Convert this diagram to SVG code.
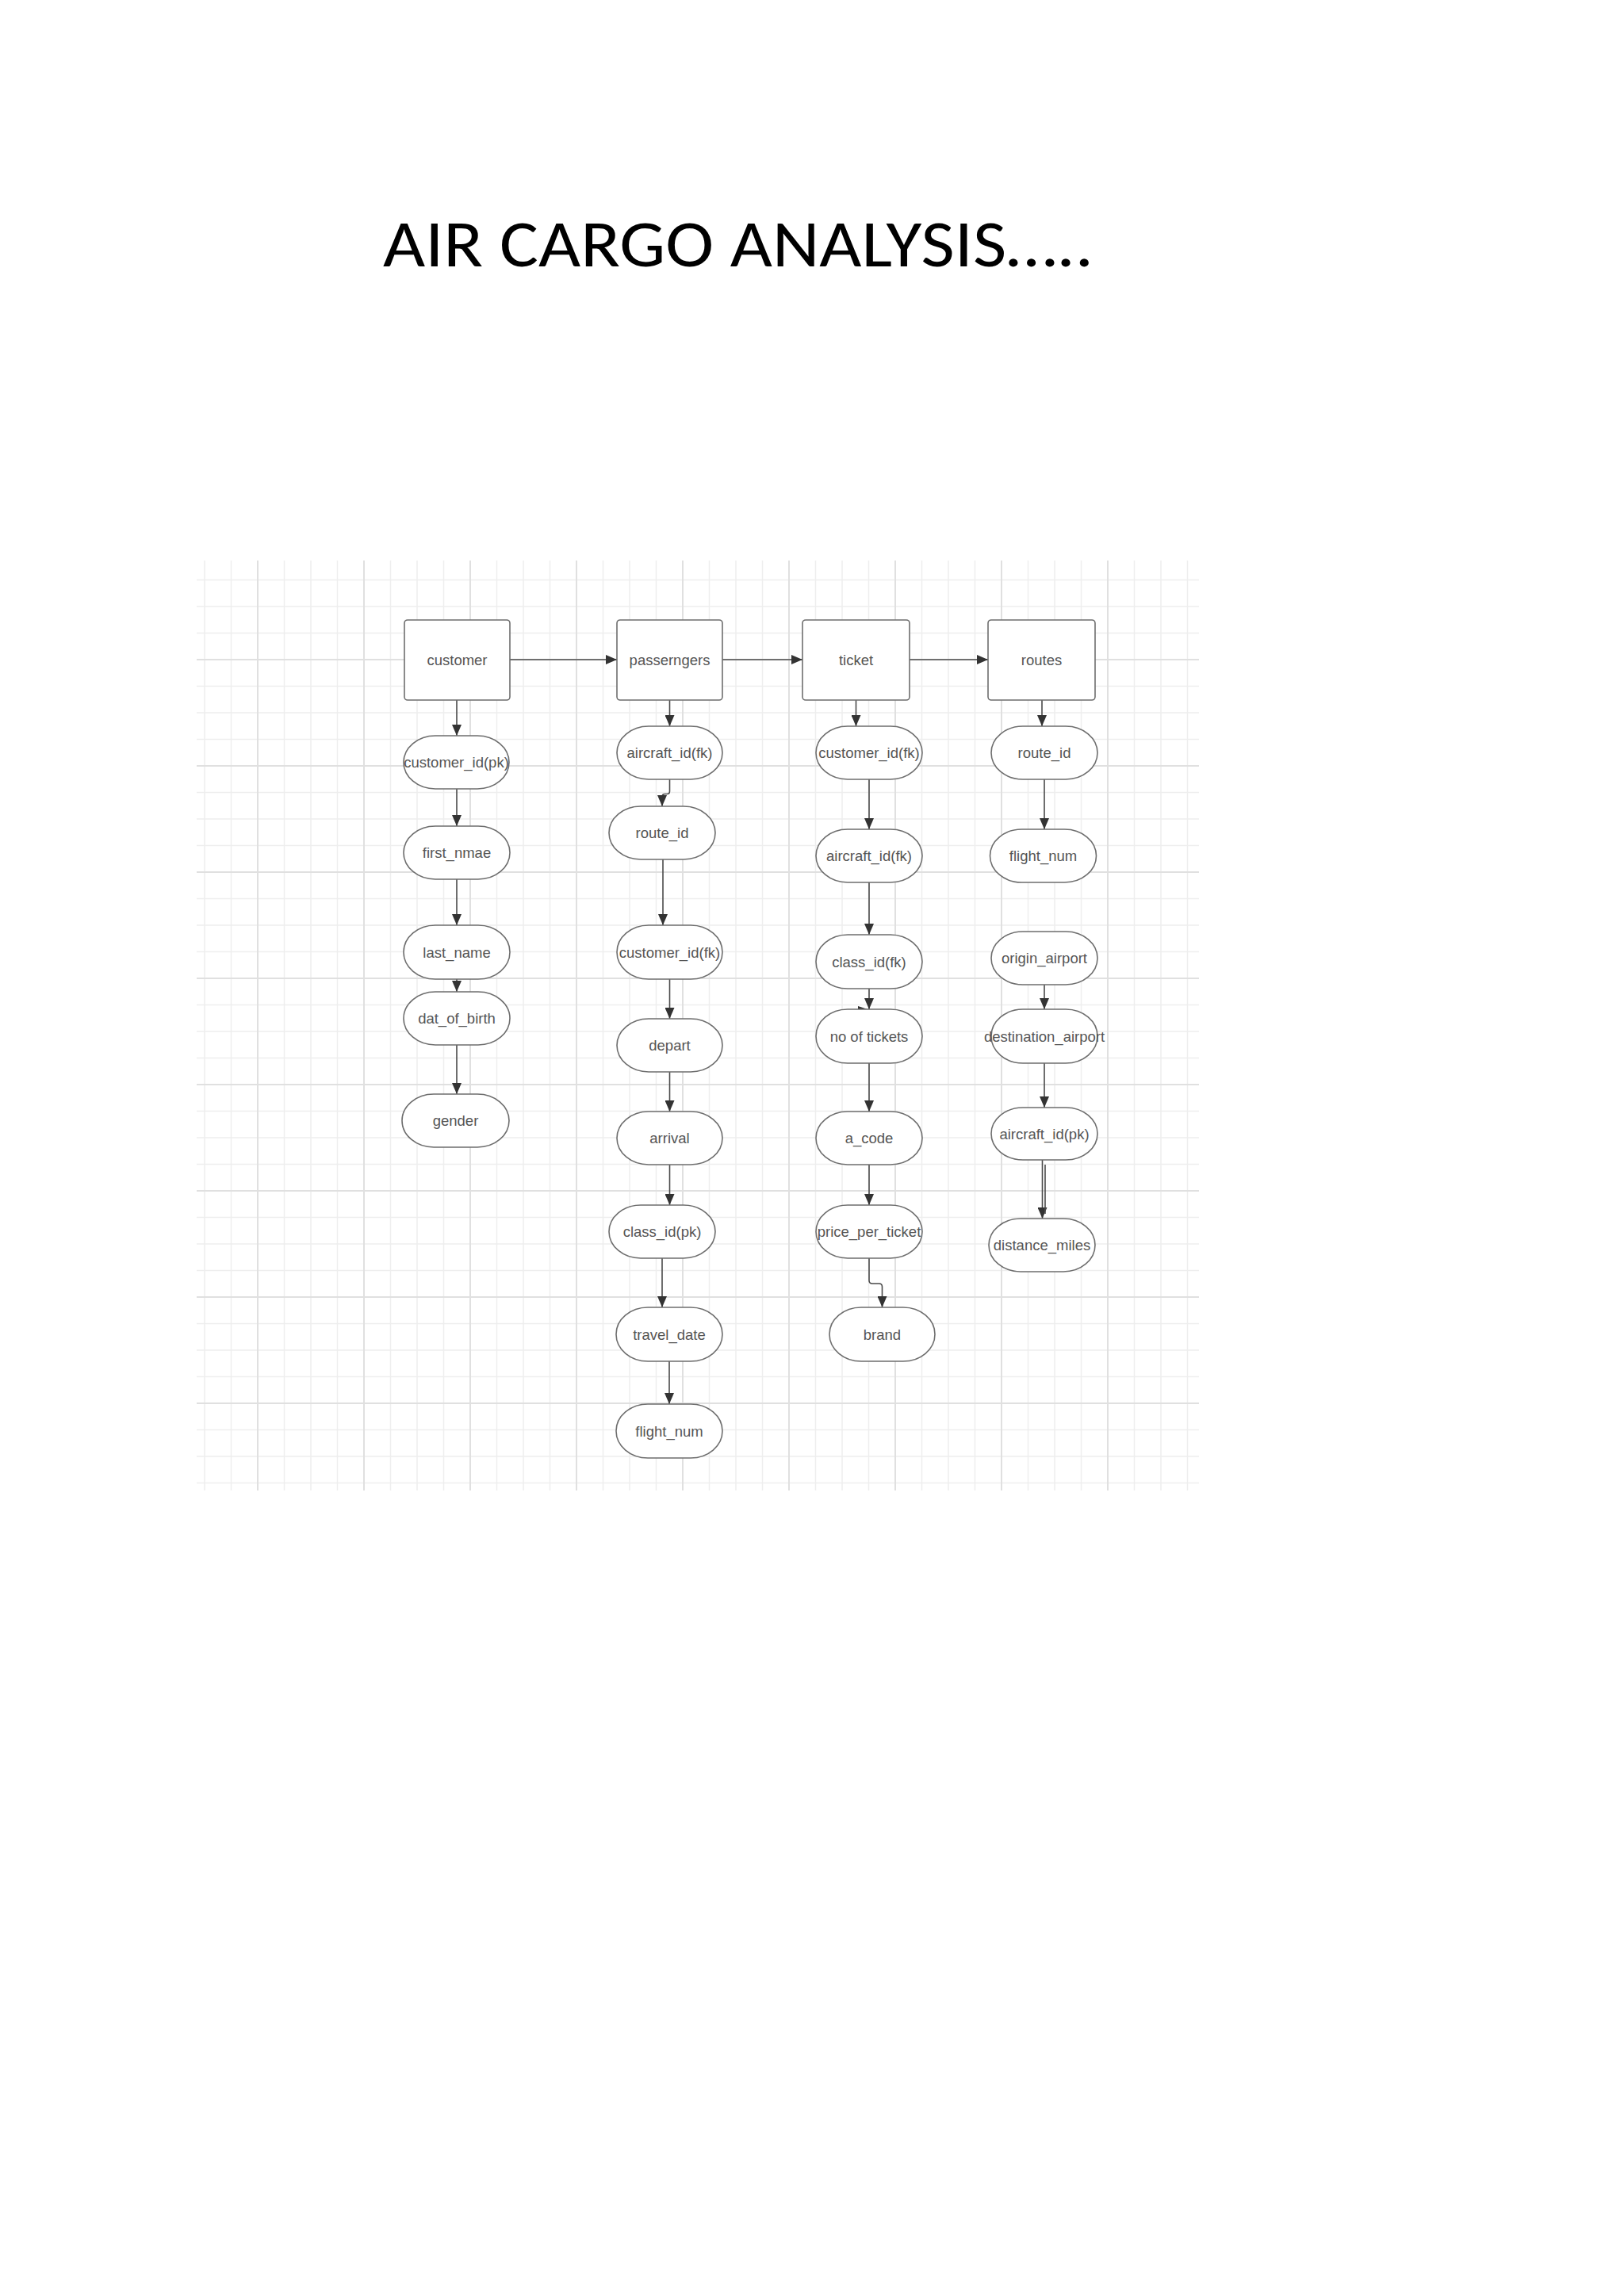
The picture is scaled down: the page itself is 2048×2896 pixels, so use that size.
<svg xmlns="http://www.w3.org/2000/svg" width="2048" height="2896" viewBox="0 0 2048 2896">
<style>
.ent{fill:#fff;stroke:#6e6e6e;stroke-width:1.6}
.att{fill:#fff;stroke:#6e6e6e;stroke-width:1.6}
.lbl{font-family:"Liberation Sans",Arial,sans-serif;font-size:18.5px;fill:#555;text-anchor:middle}
.con{fill:none;stroke:#4a4a4a;stroke-width:1.6}
.gmin{fill:none;stroke:#eeeeee;stroke-width:1.5}
.gmaj{fill:none;stroke:#e0e0e0;stroke-width:2}
</style>
<defs>
<marker id="ah" markerUnits="userSpaceOnUse" markerWidth="14" markerHeight="12" refX="14" refY="6" orient="auto">
<path d="M0,0 L14,6 L0,12 Z" fill="#333"/>
</marker>
</defs>
<rect width="2048" height="2896" fill="#fff"/>
<text x="483" y="336" font-family="Calibri,Carlito,'Open Sans',sans-serif" font-size="84" fill="#000" textLength="896" lengthAdjust="spacingAndGlyphs">AIR CARGO ANALYSIS…..</text>
<g id="grid">
<path class="gmin" d="M258 707V1880M291.5 707V1880M358.5 707V1880M392 707V1880M425.5 707V1880M492.5 707V1880M526 707V1880M559.5 707V1880M626.5 707V1880M660 707V1880M693.5 707V1880M760.5 707V1880M794 707V1880M827.5 707V1880M894.5 707V1880M928 707V1880M961.5 707V1880M1028.5 707V1880M1062 707V1880M1095.5 707V1880M1162.5 707V1880M1196 707V1880M1229.5 707V1880M1296.5 707V1880M1330 707V1880M1363.5 707V1880M1430.5 707V1880M1464 707V1880M1497.5 707V1880M248 731.5H1512M248 765H1512M248 798.5H1512M248 865.5H1512M248 899H1512M248 932.5H1512M248 999.5H1512M248 1033H1512M248 1066.5H1512M248 1133.5H1512M248 1167H1512M248 1200.5H1512M248 1267.5H1512M248 1301H1512M248 1334.5H1512M248 1401.5H1512M248 1435H1512M248 1468.5H1512M248 1535.5H1512M248 1569H1512M248 1602.5H1512M248 1669.5H1512M248 1703H1512M248 1736.5H1512M248 1803.5H1512M248 1837H1512M248 1870.5H1512"/>
<path class="gmaj" d="M325 707V1880M459 707V1880M593 707V1880M727 707V1880M861 707V1880M995 707V1880M1129 707V1880M1263 707V1880M1397 707V1880M248 832H1512M248 966H1512M248 1100H1512M248 1234H1512M248 1368H1512M248 1502H1512M248 1636H1512M248 1770H1512"/>
</g>
<g id="connectors">
<path class="con" marker-end="url(#ah)" d="M643,832 H778"/>
<path class="con" marker-end="url(#ah)" d="M911,832 H1012"/>
<path class="con" marker-end="url(#ah)" d="M1147,832 H1246"/>
<path class="con" marker-end="url(#ah)" d="M576,883 V928"/>
<path class="con" marker-end="url(#ah)" d="M576,995 V1042"/>
<path class="con" marker-end="url(#ah)" d="M576,1109 V1167"/>
<path class="con" marker-end="url(#ah)" d="M576,1235 V1251"/>
<path class="con" marker-end="url(#ah)" d="M576,1318 V1380"/>
<path class="con" marker-end="url(#ah)" d="M844.5,883 V916"/>
<path class="con" marker-end="url(#ah)" d="M844.5,983 V998 Q844.5,1001.5 841,1001.5 H838.5 Q835,1001.5 835,1005 V1017"/>
<path class="con" marker-end="url(#ah)" d="M836,1084 V1167"/>
<path class="con" marker-end="url(#ah)" d="M844.5,1235 V1285"/>
<path class="con" marker-end="url(#ah)" d="M844.5,1352 V1402"/>
<path class="con" marker-end="url(#ah)" d="M844.5,1469 V1520"/>
<path class="con" marker-end="url(#ah)" d="M835,1587 V1649"/>
<path class="con" marker-end="url(#ah)" d="M844,1717 V1771"/>
<path class="con" marker-end="url(#ah)" d="M1079.5,883 V916"/>
<path class="con" marker-end="url(#ah)" d="M1096,983 V1046"/>
<path class="con" marker-end="url(#ah)" d="M1096,1113 V1179"/>
<path class="con" marker-end="url(#ah)" d="M1096,1247 V1273"/>
<path d="M1082,1269 L1094,1273 L1082,1277 Z" fill="#333"/>
<path class="con" marker-end="url(#ah)" d="M1096,1341 V1402"/>
<path class="con" marker-end="url(#ah)" d="M1096,1469 V1520"/>
<path class="con" marker-end="url(#ah)" d="M1096,1587 V1615 Q1096,1619 1100,1619 H1108.5 Q1112.5,1619 1112.5,1623 V1649"/>
<path class="con" marker-end="url(#ah)" d="M1314,883 V916"/>
<path class="con" marker-end="url(#ah)" d="M1317,983 V1046"/>
<path class="con" marker-end="url(#ah)" d="M1317,1242 V1273"/>
<path class="con" marker-end="url(#ah)" d="M1317,1341 V1397"/>
<path class="con" marker-end="url(#ah)" d="M1314.5,1463 V1537"/>
<path class="con" d="M1318,1469 V1531"/>
</g>
<g id="customer"><rect class="ent" x="510" y="782" width="133" height="101" rx="4"/><text class="lbl" x="576.5" y="839">customer</text></g>
<g id="passerngers"><rect class="ent" x="778" y="782" width="133" height="101" rx="4"/><text class="lbl" x="844.5" y="839">passerngers</text></g>
<g id="ticket"><rect class="ent" x="1012" y="782" width="135" height="101" rx="4"/><text class="lbl" x="1079.5" y="839">ticket</text></g>
<g id="routes"><rect class="ent" x="1246" y="782" width="135" height="101" rx="4"/><text class="lbl" x="1313.5" y="839">routes</text></g>

<g id="c_customer_id"><rect class="att" x="509" y="928" width="133" height="67" rx="40" ry="33.5"/><text class="lbl" x="575.5" y="968">customer_id(pk)</text></g>
<g id="c_first_nmae"><rect class="att" x="509" y="1042" width="134" height="67" rx="40" ry="33.5"/><text class="lbl" x="576" y="1082">first_nmae</text></g>
<g id="c_last_name"><rect class="att" x="509" y="1167" width="134" height="68" rx="40" ry="34"/><text class="lbl" x="576" y="1207.5">last_name</text></g>
<g id="c_dat_of_birth"><rect class="att" x="509" y="1251" width="134" height="67" rx="40" ry="33.5"/><text class="lbl" x="576" y="1291">dat_of_birth</text></g>
<g id="c_gender"><rect class="att" x="507" y="1380" width="135" height="67" rx="40" ry="33.5"/><text class="lbl" x="574.5" y="1420">gender</text></g>

<g id="p_aircraft_id"><rect class="att" x="778" y="916" width="133" height="67" rx="40" ry="33.5"/><text class="lbl" x="844.5" y="956">aircraft_id(fk)</text></g>
<g id="p_route_id"><rect class="att" x="768" y="1017" width="134" height="67" rx="40" ry="33.5"/><text class="lbl" x="835" y="1057">route_id</text></g>
<g id="p_customer_id"><rect class="att" x="778" y="1167" width="133" height="68" rx="40" ry="34"/><text class="lbl" x="844.5" y="1207.5">customer_id(fk)</text></g>
<g id="p_depart"><rect class="att" x="778" y="1285" width="133" height="67" rx="40" ry="33.5"/><text class="lbl" x="844.5" y="1325">depart</text></g>
<g id="p_arrival"><rect class="att" x="778" y="1402" width="133" height="67" rx="40" ry="33.5"/><text class="lbl" x="844.5" y="1442">arrival</text></g>
<g id="p_class_id"><rect class="att" x="768" y="1520" width="134" height="67" rx="40" ry="33.5"/><text class="lbl" x="835" y="1560">class_id(pk)</text></g>
<g id="p_travel_date"><rect class="att" x="777" y="1649" width="134" height="68" rx="40" ry="34"/><text class="lbl" x="844" y="1689.5">travel_date</text></g>
<g id="p_flight_num"><rect class="att" x="777" y="1771" width="134" height="68" rx="40" ry="34"/><text class="lbl" x="844" y="1811.5">flight_num</text></g>

<g id="t_customer_id"><rect class="att" x="1029" y="916" width="134" height="67" rx="40" ry="33.5"/><text class="lbl" x="1096" y="956">customer_id(fk)</text></g>
<g id="t_aircraft_id"><rect class="att" x="1029" y="1046" width="134" height="67" rx="40" ry="33.5"/><text class="lbl" x="1096" y="1086">aircraft_id(fk)</text></g>
<g id="t_class_id"><rect class="att" x="1029" y="1179" width="134" height="68" rx="40" ry="34"/><text class="lbl" x="1096" y="1219.5">class_id(fk)</text></g>
<g id="t_no_of_tickets"><rect class="att" x="1029" y="1273" width="134" height="68" rx="40" ry="34"/><text class="lbl" x="1096" y="1313.5">no of tickets</text></g>
<g id="t_a_code"><rect class="att" x="1029" y="1402" width="134" height="67" rx="40" ry="33.5"/><text class="lbl" x="1096" y="1442">a_code</text></g>
<g id="t_price_per_ticket"><rect class="att" x="1029" y="1520" width="134" height="67" rx="40" ry="33.5"/><text class="lbl" x="1096" y="1560">price_per_ticket</text></g>
<g id="t_brand"><rect class="att" x="1046" y="1649" width="133" height="68" rx="40" ry="34"/><text class="lbl" x="1112.5" y="1689.5">brand</text></g>

<g id="r_route_id"><rect class="att" x="1250" y="916" width="134" height="67" rx="40" ry="33.5"/><text class="lbl" x="1317" y="956">route_id</text></g>
<g id="r_flight_num"><rect class="att" x="1248.5" y="1046" width="134" height="67" rx="40" ry="33.5"/><text class="lbl" x="1315.5" y="1086">flight_num</text></g>
<g id="r_origin_airport"><rect class="att" x="1250" y="1175" width="134" height="67" rx="40" ry="33.5"/><text class="lbl" x="1317" y="1215">origin_airport</text></g>
<g id="r_destination_airport"><rect class="att" x="1250" y="1273" width="134" height="68" rx="40" ry="34"/><text class="lbl" x="1317" y="1313.5">destination_airport</text></g>
<g id="r_aircraft_id"><rect class="att" x="1250" y="1397" width="134" height="66" rx="40" ry="33"/><text class="lbl" x="1317" y="1436.5">aircraft_id(pk)</text></g>
<g id="r_distance_miles"><rect class="att" x="1247" y="1537" width="134" height="67" rx="40" ry="33.5"/><text class="lbl" x="1314" y="1577">distance_miles</text></g>
</svg>
